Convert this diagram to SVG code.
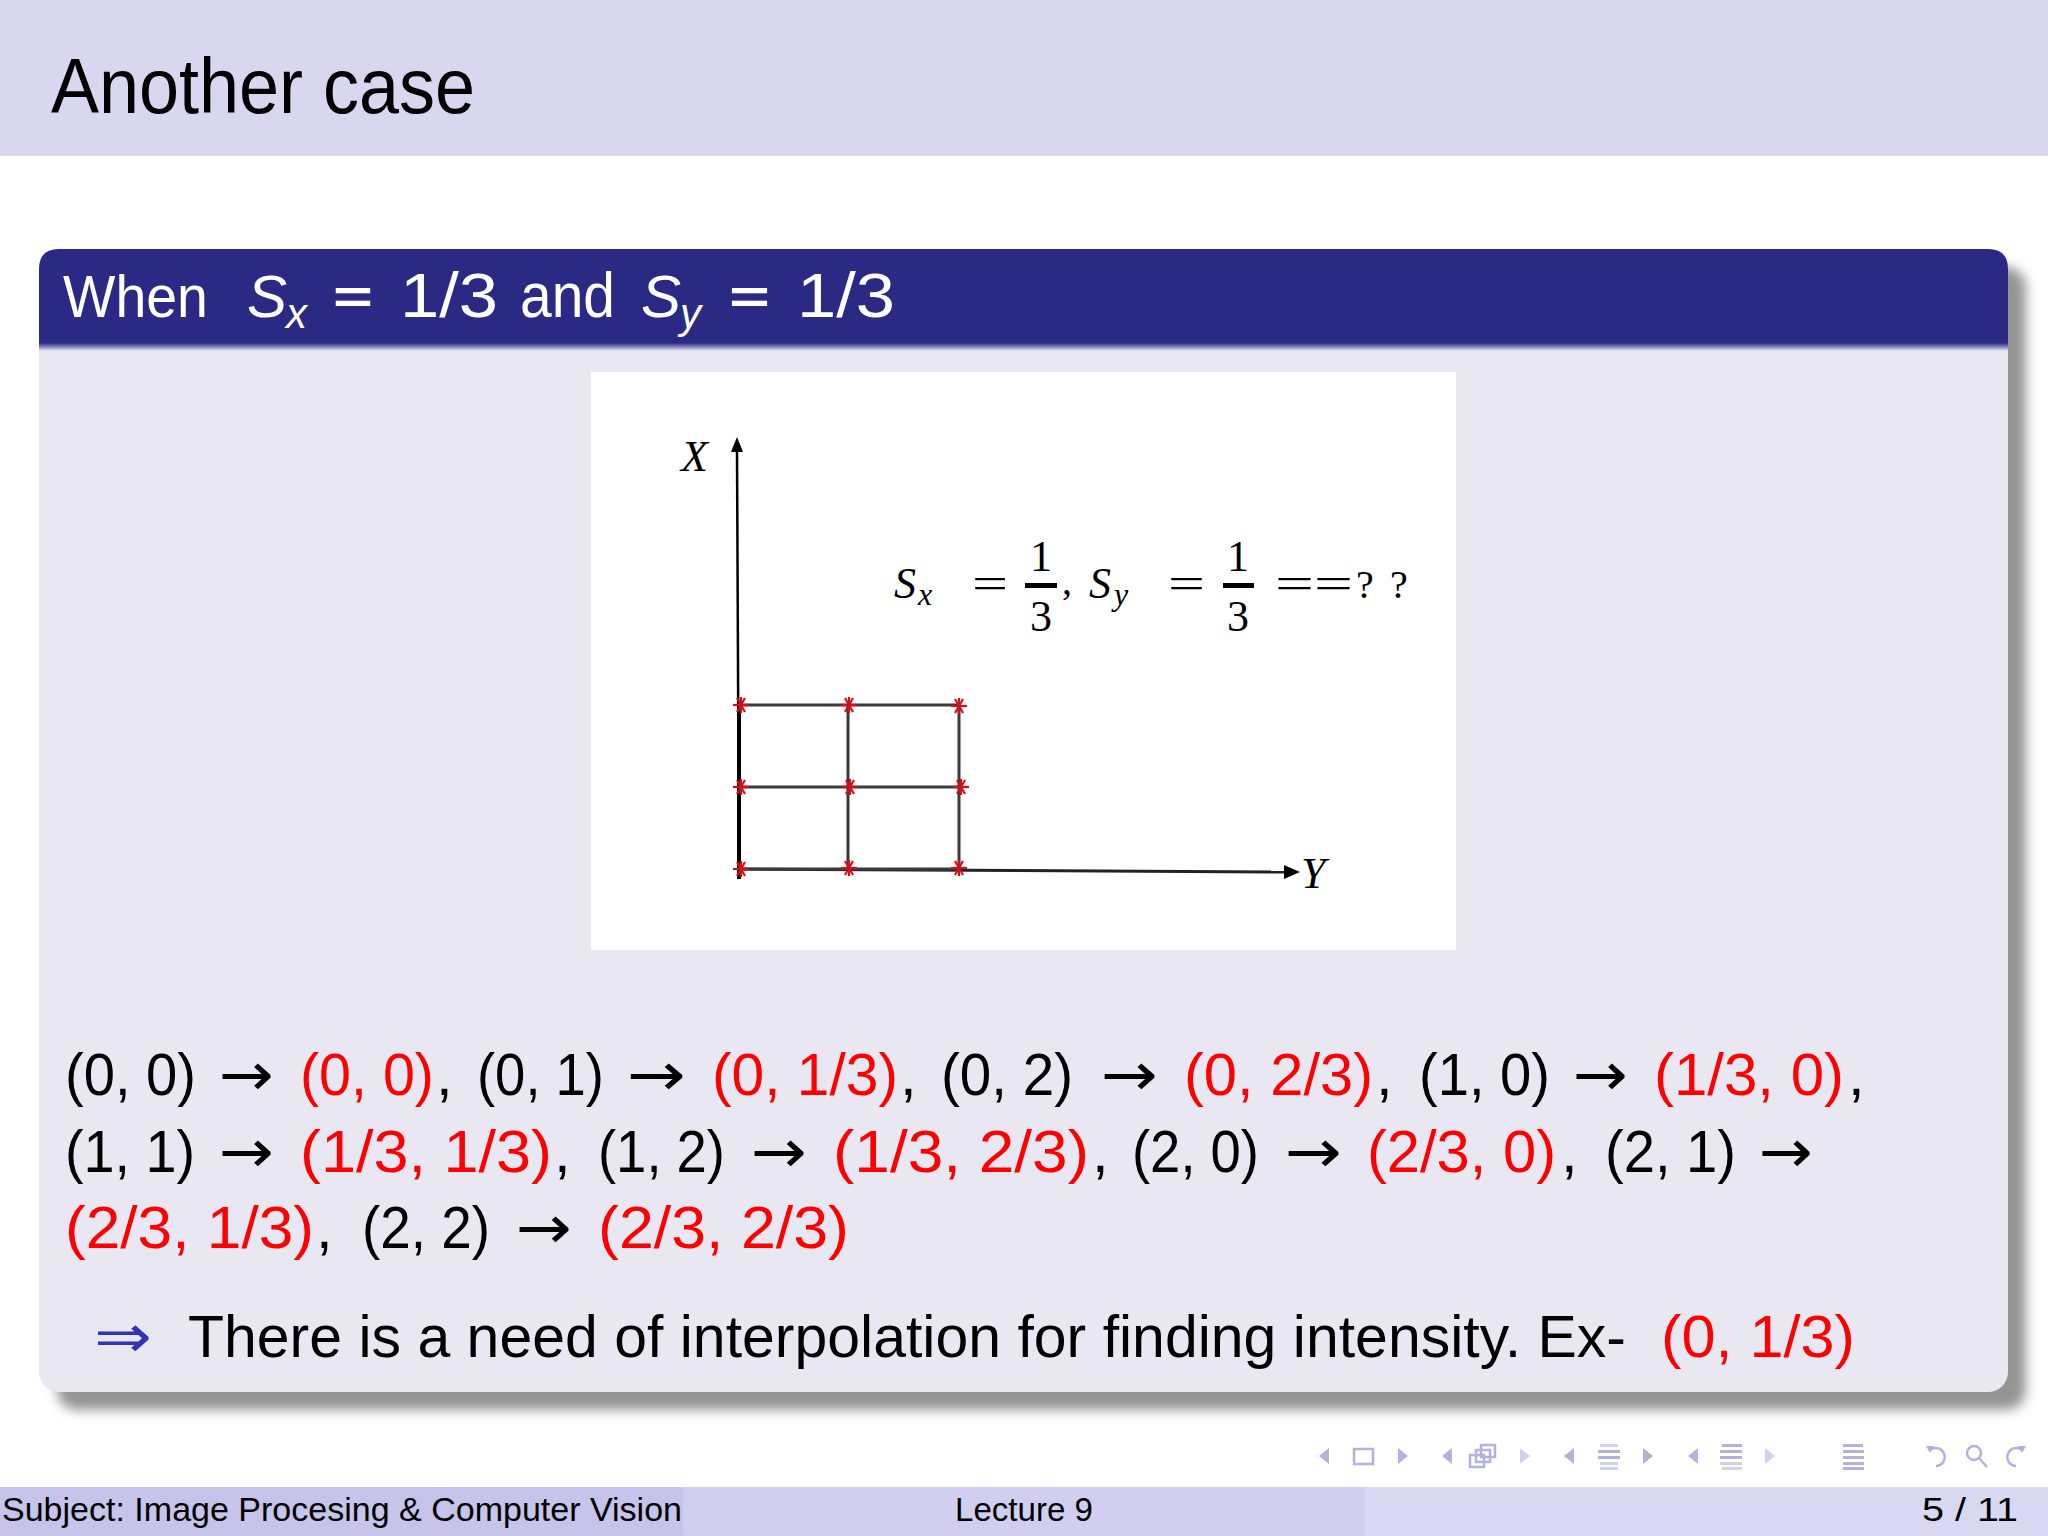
<svg xmlns="http://www.w3.org/2000/svg" width="2048" height="1536" viewBox="0 0 2048 1536">
<style>
.sans{font-family:"Liberation Sans",Arial,sans-serif}
.ser{font-family:"Liberation Serif","Times New Roman",serif}
.sym{font-family:"DejaVu Sans",sans-serif}
.it{font-style:italic}
.body{font-size:60px;fill:#000}
.red{fill:#ff0000}
.blk{fill:#000}
.grid{stroke:#3a3a3a;stroke-width:3;fill:none}
.star{stroke:#d0101a;stroke-width:2.2;fill:none}
.nav{fill:#b3b1de}
.navl{fill:#d2d1ea}
.navs{stroke:#b3b1de;fill:none;stroke-width:2.5}
</style>
<defs>
<filter id="shadow" x="-5%" y="-5%" width="110%" height="110%">
<feGaussianBlur stdDeviation="6"/>
</filter>
<linearGradient id="hdrfade" x1="0" y1="0" x2="0" y2="1">
<stop offset="0" stop-color="#2a2a85"/>
<stop offset="1" stop-color="#e9e8f2"/>
</linearGradient>
<g id="star">
<line class="star" x1="-8" y1="0" x2="8" y2="0"/>
<line class="star" x1="-4" y1="-7" x2="4" y2="7"/>
<line class="star" x1="-4" y1="7" x2="4" y2="-7"/>
<line class="star" x1="0" y1="-8" x2="0" y2="8"/>
</g>
</defs>
<rect width="2048" height="1536" fill="#ffffff"/>

<!-- title bar -->
<g id="title">
<rect x="0" y="0" width="2048" height="156" fill="#d9d7f0"/>
<text class="sans" x="51" y="113" font-size="78" textLength="424" lengthAdjust="spacingAndGlyphs">Another case</text>
</g>

<!-- block -->
<g id="block">
<rect x="57" y="267" width="1969" height="1143" rx="20" fill="#7a7a7a" filter="url(#shadow)" opacity="0.8"/>
<rect x="39" y="249" width="1969" height="1143" rx="20" fill="#e9e8f2"/>
<path d="M39 343 V269 Q39 249 59 249 H1988 Q2008 249 2008 269 V343 Z" fill="#2a2a85"/>
<rect x="39" y="343" width="1969" height="8" fill="url(#hdrfade)"/>
<g id="block-title" fill="#ffffff">
<text class="sans" x="63" y="317" font-size="60" textLength="145" lengthAdjust="spacingAndGlyphs">When</text>
<text class="sans it" x="247" y="317" font-size="60">S<tspan dx="-1" dy="11" font-size="42">x</tspan></text>
<text class="sym" x="330" y="317" font-size="63" textLength="46" lengthAdjust="spacingAndGlyphs">=</text>
<text class="sans" x="400" y="317" font-size="63" textLength="98" lengthAdjust="spacingAndGlyphs">1/3</text>
<text class="sans" x="520" y="317" font-size="63" textLength="95" lengthAdjust="spacingAndGlyphs">and</text>
<text class="sans it" x="641" y="317" font-size="60">S<tspan dx="-1" dy="11" font-size="42">y</tspan></text>
<text class="sym" x="726" y="317" font-size="63" textLength="47" lengthAdjust="spacingAndGlyphs">=</text>
<text class="sans" x="797" y="317" font-size="63" textLength="98" lengthAdjust="spacingAndGlyphs">1/3</text>
</g>
</g>

<!-- figure -->
<g id="figure">
<rect x="591" y="372" width="865" height="578" fill="#ffffff"/>
<!-- X axis -->
<line x1="737" y1="450" x2="739" y2="879" stroke="#000" stroke-width="2.5"/>
<path d="M737 437 L731 452 L743 452 Z" fill="#000"/>
<text class="ser it" x="681" y="471" font-size="44">X</text>
<!-- Y axis -->
<line x1="739" y1="869" x2="1288" y2="872" stroke="#222" stroke-width="3"/>
<path d="M1300 872 L1284 865 L1284 879 Z" fill="#000"/>
<text class="ser it" x="1301" y="888" font-size="44">Y</text>
<!-- grid -->
<line class="grid" x1="739" y1="705" x2="959" y2="705" stroke-width="4"/>
<line class="grid" x1="739" y1="787" x2="959" y2="787" stroke-width="4"/>
<line class="grid" x1="739" y1="869" x2="959" y2="869" stroke-width="4" stroke="#111"/>
<line x1="739" y1="705" x2="739" y2="879" stroke="#000" stroke-width="4"/>
<line class="grid" x1="848" y1="705" x2="848" y2="869"/>
<line class="grid" x1="959" y1="705" x2="959" y2="869"/>
<use href="#star" x="741" y="705"/>
<use href="#star" x="849" y="705"/>
<use href="#star" x="959" y="706"/>
<use href="#star" x="741" y="787"/>
<use href="#star" x="850" y="787"/>
<use href="#star" x="961" y="787"/>
<use href="#star" x="741" y="869"/>
<use href="#star" x="849" y="868"/>
<use href="#star" x="959" y="868"/>
<!-- equation -->
<g id="equation" fill="#000">
<text class="ser it" x="894" y="598" font-size="44">S<tspan dx="2" dy="7" font-size="32">x</tspan></text>
<text class="ser" x="972" y="598" font-size="44" textLength="36" lengthAdjust="spacingAndGlyphs">=</text>
<rect x="1025" y="583" width="32" height="5"/>
<text class="ser" x="1041" y="571" font-size="44" text-anchor="middle">1</text>
<text class="ser" x="1041" y="631" font-size="44" text-anchor="middle">3</text>
<text class="ser" x="1062" y="594" font-size="40">,</text>
<text class="ser it" x="1089" y="598" font-size="44">S<tspan dx="3" dy="7" font-size="32">y</tspan></text>
<text class="ser" x="1168" y="598" font-size="44" textLength="37" lengthAdjust="spacingAndGlyphs">=</text>
<rect x="1223" y="583" width="31" height="5"/>
<text class="ser" x="1238" y="571" font-size="44" text-anchor="middle">1</text>
<text class="ser" x="1238" y="631" font-size="44" text-anchor="middle">3</text>
<text class="ser" x="1275" y="598" font-size="44" textLength="78" lengthAdjust="spacingAndGlyphs">==</text>
<text class="ser" x="1356" y="598" font-size="40">?</text>
<text class="ser" x="1390" y="598" font-size="40">?</text>
</g>
</g>

<!-- mapping lines -->
<g id="mappings" class="sans body">
<!-- line 1 -->
<text x="65" y="1095" textLength="131" lengthAdjust="spacingAndGlyphs">(0, 0)</text>
<text class="sym" x="219" y="1095" textLength="55" lengthAdjust="spacingAndGlyphs">→</text>
<text class="red" x="300" y="1095" textLength="134" lengthAdjust="spacingAndGlyphs">(0, 0)</text>
<text x="436" y="1095">,</text>
<text x="477" y="1095" textLength="127" lengthAdjust="spacingAndGlyphs">(0, 1)</text>
<text class="sym" x="627" y="1095" textLength="59" lengthAdjust="spacingAndGlyphs">→</text>
<text class="red" x="712" y="1095" textLength="186" lengthAdjust="spacingAndGlyphs">(0, 1/3)</text>
<text x="900" y="1095">,</text>
<text x="941" y="1095" textLength="132" lengthAdjust="spacingAndGlyphs">(0, 2)</text>
<text class="sym" x="1101" y="1095" textLength="57" lengthAdjust="spacingAndGlyphs">→</text>
<text class="red" x="1184" y="1095" textLength="189" lengthAdjust="spacingAndGlyphs">(0, 2/3)</text>
<text x="1376" y="1095">,</text>
<text x="1419" y="1095" textLength="131" lengthAdjust="spacingAndGlyphs">(1, 0)</text>
<text class="sym" x="1573" y="1095" textLength="55" lengthAdjust="spacingAndGlyphs">→</text>
<text class="red" x="1654" y="1095" textLength="190" lengthAdjust="spacingAndGlyphs">(1/3, 0)</text>
<text x="1848" y="1095">,</text>
<!-- line 2 -->
<text x="65" y="1172" textLength="130" lengthAdjust="spacingAndGlyphs">(1, 1)</text>
<text class="sym" x="219" y="1172" textLength="55" lengthAdjust="spacingAndGlyphs">→</text>
<text class="red" x="300" y="1172" textLength="252" lengthAdjust="spacingAndGlyphs">(1/3, 1/3)</text>
<text x="554" y="1172">,</text>
<text x="598" y="1172" textLength="127" lengthAdjust="spacingAndGlyphs">(1, 2)</text>
<text class="sym" x="751" y="1172" textLength="56" lengthAdjust="spacingAndGlyphs">→</text>
<text class="red" x="833" y="1172" textLength="256" lengthAdjust="spacingAndGlyphs">(1/3, 2/3)</text>
<text x="1092" y="1172">,</text>
<text x="1132" y="1172" textLength="127" lengthAdjust="spacingAndGlyphs">(2, 0)</text>
<text class="sym" x="1285" y="1172" textLength="57" lengthAdjust="spacingAndGlyphs">→</text>
<text class="red" x="1367" y="1172" textLength="189" lengthAdjust="spacingAndGlyphs">(2/3, 0)</text>
<text x="1561" y="1172">,</text>
<text x="1605" y="1172" textLength="131" lengthAdjust="spacingAndGlyphs">(2, 1)</text>
<text class="sym" x="1759" y="1172" textLength="54" lengthAdjust="spacingAndGlyphs">→</text>
<!-- line 3 -->
<text class="red" x="65" y="1248" textLength="249" lengthAdjust="spacingAndGlyphs">(2/3, 1/3)</text>
<text x="316" y="1248">,</text>
<text x="362" y="1248" textLength="128" lengthAdjust="spacingAndGlyphs">(2, 2)</text>
<text class="sym" x="516" y="1248" textLength="56" lengthAdjust="spacingAndGlyphs">→</text>
<text class="red" x="598" y="1248" textLength="251" lengthAdjust="spacingAndGlyphs">(2/3, 2/3)</text>
</g>

<g id="conclusion" class="sans body">
<text class="sym" x="94" y="1357" style="fill:#3333b3" textLength="58" lengthAdjust="spacingAndGlyphs">⇒</text>
<text x="188" y="1357" textLength="1438" lengthAdjust="spacingAndGlyphs">There is a need of interpolation for finding intensity. Ex-</text>
<text class="red" x="1661" y="1357" textLength="194" lengthAdjust="spacingAndGlyphs">(0, 1/3)</text>
</g>

<!-- navigation symbols -->
<g id="nav">
<path class="nav" d="M1329 1448 L1319 1456 L1329 1464 Z"/>
<rect class="navs" x="1354" y="1449" width="19" height="15"/>
<path class="nav" d="M1398 1448 L1408 1456 L1398 1464 Z"/>
<path class="nav" d="M1452 1448 L1442 1456 L1452 1464 Z"/>
<rect class="navs" x="1481" y="1445" width="14" height="12" fill="#fff"/>
<rect class="navs" x="1476" y="1450" width="14" height="12" fill="#fff"/>
<rect class="navs" x="1470" y="1455" width="14" height="12" fill="#fff"/>
<path class="navl" d="M1520 1448 L1530 1456 L1520 1464 Z"/>
<path class="nav" d="M1574 1448 L1564 1456 L1574 1464 Z"/>
<rect class="navl" x="1600" y="1444" width="18" height="3"/>
<rect class="nav" x="1598" y="1450" width="22" height="3"/>
<rect class="nav" x="1598" y="1456" width="22" height="3"/>
<rect class="navl" x="1600" y="1462" width="18" height="3"/>
<rect class="navl" x="1600" y="1467" width="18" height="3"/>
<path class="nav" d="M1643 1448 L1653 1456 L1643 1464 Z"/>
<path class="nav" d="M1698 1448 L1688 1456 L1698 1464 Z"/>
<rect class="nav" x="1722" y="1444" width="20" height="3"/>
<rect class="nav" x="1720" y="1450" width="22" height="3"/>
<rect class="nav" x="1720" y="1456" width="22" height="3"/>
<rect class="navl" x="1720" y="1462" width="22" height="3"/>
<rect class="navl" x="1722" y="1467" width="20" height="3"/>
<path class="navl" d="M1765 1448 L1775 1456 L1765 1464 Z"/>
<rect class="nav" x="1843" y="1444" width="20" height="3"/>
<rect class="nav" x="1843" y="1450" width="21" height="3"/>
<rect class="nav" x="1843" y="1456" width="21" height="3"/>
<rect class="nav" x="1843" y="1462" width="21" height="3"/>
<rect class="nav" x="1843" y="1467" width="21" height="3"/>
<path class="navs" d="M1930 1450 A9 9 0 1 1 1936 1466"/>
<path class="nav" d="M1926 1446 L1934 1446 L1930 1453 Z"/>
<circle class="navs" cx="1974" cy="1453" r="7"/>
<line class="navs" x1="1979" y1="1458" x2="1987" y2="1467"/>
<path class="navs" d="M2022 1450 A9 9 0 1 0 2016 1466"/>
<path class="nav" d="M2026 1446 L2018 1446 L2022 1453 Z"/>
</g>

<!-- footer -->
<g id="footer">
<rect x="0" y="1487" width="683" height="49" fill="#c6c4ea"/>
<rect x="683" y="1487" width="682" height="49" fill="#d0cfef"/>
<rect x="1365" y="1487" width="683" height="49" fill="#d9d8f3"/>
<text class="sans" x="2" y="1521" font-size="33" textLength="680" lengthAdjust="spacingAndGlyphs">Subject: Image Procesing &amp; Computer Vision</text>
<text class="sans" x="955" y="1521" font-size="33" textLength="138" lengthAdjust="spacingAndGlyphs">Lecture 9</text>
<text class="sans" x="1922" y="1521" font-size="33" textLength="96" lengthAdjust="spacingAndGlyphs">5 / 11</text>
</g>
</svg>
